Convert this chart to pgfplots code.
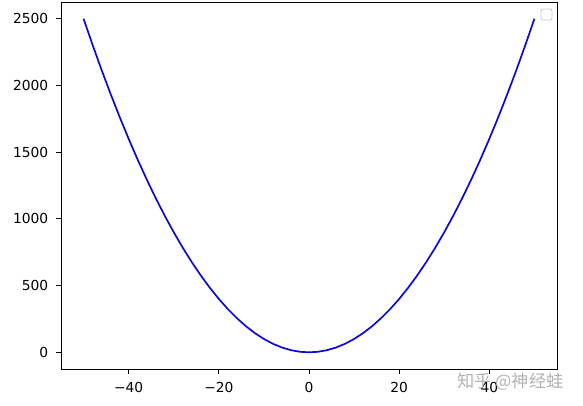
\documentclass[border=0pt]{standalone}
\usepackage{fontspec}
\setmainfont{DejaVu Sans}
\newfontfamily\cjk{Noto Sans CJK SC}
\usepackage{pgfplots}
\pgfplotsset{compat=1.18}
\definecolor{lineblue}{RGB}{8,8,215}
\begin{document}
\begin{tikzpicture}[x=0.5pt,y=0.5pt]
\begin{axis}[
  name=ax, anchor=south west,
  scale only axis,
  width=248pt, height=183.5pt,
  xmin=-55, xmax=55,
  ymin=-125, ymax=2625,
  xtick={-40,-20,0,20,40},
  xticklabels={−40,−20,0,20,40},
  ytick={0,500,1000,1500,2000,2500},
  yticklabels={0,500,1000,1500,2000,2500},
  tick align=outside,
  tick pos=left,
  major tick length=2.4pt,
  axis line style={line width=0.45pt},
  every tick/.style={black,line width=0.45pt},
  tick label style={font=\fontsize{6.9}{8}\selectfont},
  xticklabel style={yshift=-0.5pt},
  yticklabel style={xshift=-0.5pt},
]
\addplot[lineblue, line width=0.85pt] coordinates {
(-50,2500) (-48,2304) (-46,2116) (-44,1936) (-42,1764) (-40,1600)
(-38,1444) (-36,1296) (-34,1156) (-32,1024) (-30,900) (-28,784)
(-26,676) (-24,576) (-22,484) (-20,400) (-18,324) (-16,256)
(-14,196) (-12,144) (-10,100) (-8,64) (-6,36) (-4,16) (-2,4) (0,0)
(2,4) (4,16) (6,36) (8,64) (10,100) (12,144) (14,196) (16,256)
(18,324) (20,400) (22,484) (24,576) (26,676) (28,784) (30,900)
(32,1024) (34,1156) (36,1296) (38,1444) (40,1600) (42,1764)
(44,1936) (46,2116) (48,2304) (50,2500)
};
\end{axis}
\pgfresetboundingbox
\path (ax.south west) ++(-61,-37) coordinate (bl);
\useasboundingbox (bl) rectangle ++(583,406);
\begin{scope}[shift={(bl)}]
% empty legend frame
\draw[rounded corners=1pt, draw=black!22, line width=0.4pt, fill=white]
  (541,386) rectangle (552,397);
% watermark
\node[anchor=west, inner sep=0pt, text=black!30] at (457,24)
  {\cjk\fontsize{8.6}{9}\selectfont 知乎 @神经蛙};
\end{scope}
\end{tikzpicture}
\end{document}
